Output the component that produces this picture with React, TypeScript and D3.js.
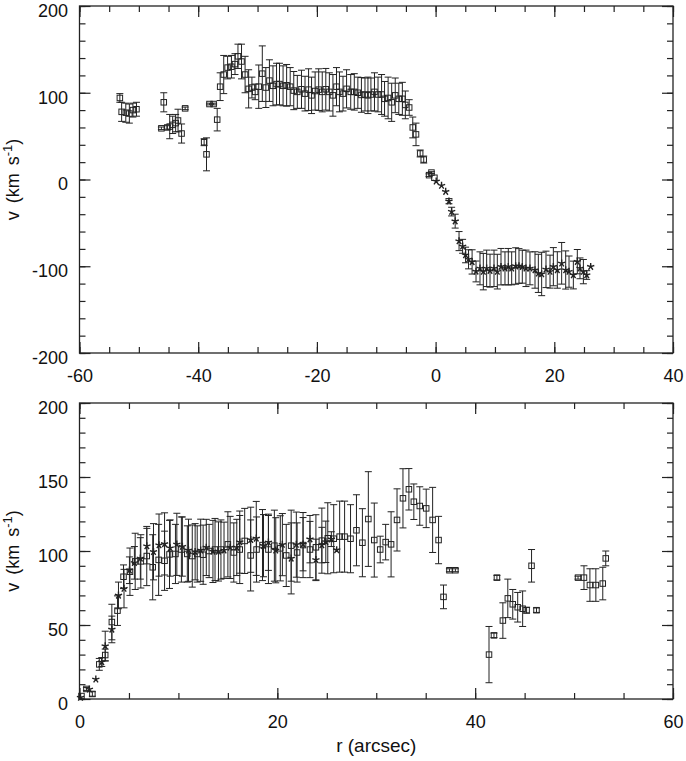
import React, { useEffect, useRef } from "react";
import * as d3 from "d3";

// ---------- data (r in arcsec, v in km/s, e = error half-length) ----------
// top panel: approaching side (open squares)
const topSquares: [number, number, number][] = [
  [-53.2, 94, 5], [-52.9, 78, 11], [-52.2, 77, 11], [-51.6, 76, 11], [-51.0, 80, 8], [-50.4, 81, 8],
  [-46.2, 59, 1.5], [-45.8, 89, 11], [-45.2, 60, 2], [-44.8, 61, 14], [-44.3, 63, 10], [-43.8, 65, 10],
  [-43.4, 68, 13], [-42.8, 53, 11], [-42.2, 82, 1.5],
  [-39.0, 43, 4], [-38.6, 29, 19], [-38.1, 87, 1], [-37.4, 87, 1], [-36.8, 69, 13],
  [-36.3, 107, 16], [-35.7, 121, 22], [-35.05, 129, 13], [-34.4, 130, 13], [-33.8, 133, 12], [-33.3, 142, 14],
  [-32.7, 136, 20], [-32.1, 121, 21], [-31.5, 104.5, 22], [-30.95, 106, 12], [-30.4, 101, 9], [-29.8, 107, 25],
  [-29.2, 122, 32], [-28.6, 106, 23], [-28.0, 114, 24], [-27.4, 108, 23], [-26.8, 110, 24], [-26.3, 110, 24],
  [-25.7, 108, 23], [-25.1, 108.6, 24], [-24.5, 107, 22], [-23.9, 102.5, 22], [-23.3, 101, 19], [-22.6, 104, 22],
  [-22.0, 99, 20], [-21.4, 103.6, 24], [-20.9, 97, 21], [-20.3, 102, 22], [-19.7, 103.6, 24], [-19.1, 101, 23],
  [-18.5, 104, 24], [-17.9, 101, 22], [-17.3, 97, 24], [-16.7, 107, 22], [-16.2, 101, 23], [-15.6, 99, 20],
  [-15.0, 104.5, 22], [-14.3, 101, 20], [-13.7, 101, 21], [-13.1, 100, 18], [-12.5, 97.5, 20], [-11.9, 98, 19],
  [-11.4, 97, 21], [-10.9, 98, 19], [-10.3, 101, 22], [-9.7, 98, 20], [-9.1, 98, 23], [-8.6, 93, 20],
  [-8.0, 94, 24], [-7.4, 89, 22], [-6.8, 97, 20], [-6.2, 93, 18], [-5.6, 93, 19], [-5.1, 86, 16],
  [-4.45, 83, 9], [-3.85, 60, 12], [-3.3, 52, 13], [-2.6, 30, 4], [-2.0, 23, 4], [-1.1, 5, 1.5],
  [-0.7, 8, 1], [-0.2, 2, 0],
];

// top panel: receding side (asterisks)
const topStars: [number, number, number][] = [
  [0.1, -2, 0], [1.0, -7, 0], [1.7, -14, 0], [2.25, -25, 3], [2.7, -37, 5], [3.3, -48, 8],
  [3.95, -71, 11], [4.55, -77, 8], [5.05, -87, 9], [5.55, -92, 11], [6.15, -95, 14],
  [6.81, -106, 12], [7.48, -102.4, 19], [8.04, -106.2, 21], [8.6, -102.4, 21], [9.17, -105.1, 19],
  [9.84, -102.4, 21], [10.4, -106.2, 20], [11.02, -100.5, 21], [11.69, -102.4, 19], [12.25, -100.5, 21],
  [12.82, -102.4, 19], [13.49, -99.7, 21], [14.05, -99.7, 20], [14.61, -100.5, 19], [15.23, -102.4, 21],
  [15.9, -102.4, 19], [16.75, -104.3, 21], [17.31, -108.2, 22], [17.87, -108.9, 25], [18.6, -103.6, 21],
  [19.28, -106.2, 19], [19.84, -100.5, 22], [20.51, -104.3, 21], [21.24, -96.6, 24], [21.92, -104.3, 22],
  [22.48, -106.2, 18], [23.21, -110.1, 16], [23.88, -94.7, 14], [24.33, -102.4, 12], [24.9, -106.2, 14],
  [25.46, -110.1, 5], [26.13, -100.5, 0],
];

// bottom panel: folded curve, approaching side (open squares)
const bottomSquares: [number, number, number][] = [
  [53.2, 95, 5], [52.9, 78, 11], [52.2, 77, 11], [51.6, 77, 11], [51.0, 82, 8], [50.4, 82, 1],
  [46.2, 60, 1.5], [45.7, 90, 11], [45.2, 60, 2], [44.8, 61, 12], [44.3, 62, 10], [43.8, 64, 10],
  [43.3, 68, 13], [42.8, 53, 12], [42.2, 82, 1.5],
  [41.9, 43, 1.5], [41.4, 30, 19], [38.0, 87, 1], [37.4, 87, 1], [36.8, 69, 8],
  [36.3, 107.4, 16], [35.7, 121, 22], [35.05, 128.8, 13], [34.4, 130.4, 13], [33.8, 133.3, 12], [33.3, 141.7, 14],
  [32.7, 135.6, 20], [32.1, 121, 21], [31.5, 104.5, 22], [30.95, 106, 12], [30.4, 101, 9], [29.8, 107.4, 25],
  [29.2, 121.6, 32], [28.6, 105.6, 23], [28.0, 114, 24], [27.4, 108.3, 23], [26.8, 109.7, 24], [26.3, 109.7, 24],
  [25.7, 108.3, 23], [25.1, 108.6, 24], [24.5, 107, 22], [23.9, 102.5, 22], [23.3, 101, 19], [22.6, 104, 22],
  [22.0, 99, 20], [21.4, 103.6, 24], [20.9, 97, 21], [20.3, 101.8, 22], [19.7, 103.6, 24], [19.1, 101, 23],
  [18.5, 104, 24], [17.9, 101, 22], [17.3, 97, 24], [16.7, 106.8, 22], [16.2, 101, 23], [15.6, 99, 20],
  [15.0, 104.5, 22], [14.3, 101, 20], [13.7, 101, 21], [13.1, 100, 18], [12.5, 97.5, 20], [11.9, 98, 19],
  [11.4, 96.6, 21], [10.9, 98, 19], [10.3, 101, 22], [9.7, 98, 20], [9.1, 97.7, 23], [8.6, 93.4, 20],
  [8.0, 94, 24], [7.4, 89, 22], [6.8, 96.6, 20], [6.2, 93, 18], [5.63, 93, 19], [5.1, 86, 16],
  [4.45, 82.6, 8], [3.84, 59.7, 10], [3.27, 52, 12], [2.6, 29.7, 4], [2.0, 23.4, 4], [1.3, 3.4, 1.5],
  [0.7, 6.8, 1], [0.2, 2, 0],
];

// bottom panel: folded curve, receding side (asterisks)
const bottomStars: [number, number, number][] = [
  [0.1, 1, 0], [1.0, 6.5, 0], [1.65, 13.3, 0], [2.25, 25, 3], [2.6, 35.8, 10], [3.27, 47, 9],
  [3.94, 70, 9], [4.5, 74.6, 13], [5.05, 87, 9], [5.55, 92, 11], [6.15, 95, 14],
  [6.81, 103.3, 12], [7.48, 99.5, 19], [8.04, 104, 21], [8.6, 104.8, 21], [9.17, 102, 19],
  [9.84, 104.5, 21], [10.4, 103, 20], [11.02, 100.5, 21], [11.69, 99.5, 19], [12.25, 100.5, 21],
  [12.82, 102.4, 19], [13.49, 99.7, 21], [14.05, 99.7, 20], [14.61, 100.5, 19], [15.23, 102.4, 21],
  [15.9, 102.4, 19], [16.2, 106, 21], [17.31, 107.6, 22], [17.87, 108.5, 25], [18.6, 103.6, 21],
  [19.1, 105.9, 19], [19.84, 100.5, 22], [20.51, 104.3, 21], [21.4, 95, 24], [21.92, 104.3, 22],
  [22.6, 104.6, 18], [23.3, 108, 16], [23.9, 94, 14], [24.5, 104, 12], [24.9, 106.2, 14],
  [25.46, 108, 5], [26.0, 100.7, 0],
];

// axis ticks
const topXMajor = [-60, -40, -20, 0, 20, 40];
const topXMinor = d3.range(-60, 41, 5);
const topYMajor = [-200, -100, 0, 100, 200];
const topYMinor = d3.range(-200, 201, 20);
const botXMajor = [0, 20, 40, 60];
const botXMinor = d3.range(0, 61, 5);
const botYMajor = [0, 50, 100, 150, 200];
const botYMinor = d3.range(0, 201, 10);

// ---------- layout ----------
const W = 686;
const H = 761;
const LEFT = 79.5;
const RIGHT = 673;
const P1 = { top: 6, bottom: 353 };
const P2 = { top: 403, bottom: 699 };
const INK = "#222";
const FONT = "'Liberation Sans', Arial, Helvetica, sans-serif";

const x1 = d3.scaleLinear().domain([-60, 40]).range([LEFT, RIGHT]);
const y1 = d3.scaleLinear().domain([-200, 200]).range([P1.bottom, P1.top]);
const x2 = d3.scaleLinear().domain([0, 60]).range([LEFT, RIGHT]);
const y2 = d3.scaleLinear().domain([0, 200]).range([P2.bottom, P2.top]);

type Scale = d3.ScaleLinear<number, number>;

function drawAxes(
  g: d3.Selection<SVGGElement, unknown, null, undefined>,
  x: Scale, y: Scale, top: number, bottom: number,
  xMaj: number[], xMin: number[], yMaj: number[], yMin: number[]
) {
  const fmt = (d: d3.NumberValue) => String(d);
  const none = () => "";
  const MAJ = 11, MIN = 6;
  const add = (tr: string, axis: d3.Axis<d3.NumberValue>) =>
    g.append("g").attr("transform", tr).call(axis as any);

  add(`translate(0,${bottom})`, d3.axisBottom(x).tickValues(xMin).tickSizeInner(-MIN).tickSizeOuter(0).tickFormat(none));
  add(`translate(0,${bottom})`, d3.axisBottom(x).tickValues(xMaj).tickSizeInner(-MAJ).tickSizeOuter(0).tickPadding(16.5).tickFormat(fmt));
  add(`translate(0,${top})`, d3.axisTop(x).tickValues(xMin).tickSizeInner(-MIN).tickSizeOuter(0).tickFormat(none));
  add(`translate(0,${top})`, d3.axisTop(x).tickValues(xMaj).tickSizeInner(-MAJ).tickSizeOuter(0).tickFormat(none));
  add(`translate(${LEFT},0)`, d3.axisLeft(y).tickValues(yMin).tickSizeInner(-MIN).tickSizeOuter(0).tickFormat(none));
  const ly = add(`translate(${LEFT},0)`, d3.axisLeft(y).tickValues(yMaj).tickSizeInner(-MAJ).tickSizeOuter(0).tickPadding(11.5).tickFormat(fmt));
  add(`translate(${RIGHT},0)`, d3.axisRight(y).tickValues(yMin).tickSizeInner(-MIN).tickSizeOuter(0).tickFormat(none));
  add(`translate(${RIGHT},0)`, d3.axisRight(y).tickValues(yMaj).tickSizeInner(-MAJ).tickSizeOuter(0).tickFormat(none));

  ly.selectAll("text").attr("dy", "0.58em");
  g.selectAll(".domain").remove();
  g.selectAll(".tick line").attr("stroke", INK).attr("stroke-width", 1.2);
  g.selectAll("text")
    .attr("fill", "#111")
    .attr("font-family", FONT)
    .attr("font-size", 18);
  g.selectAll("g").attr("font-family", null).attr("font-size", null);
}

function Marks({ squares, stars, x, y }: { squares: [number, number, number][]; stars: [number, number, number][]; x: Scale; y: Scale }) {
  const cap = 3.5;
  const s = 5.5;
  const bar = (d: [number, number, number], i: number, k: string) => {
    const [r, v, e] = d;
    if (e <= 0) return null;
    const cx = x(r);
    const ya = y(v - e);
    const yb = y(v + e);
    return (
      <g key={k + i}>
        <line x1={cx} x2={cx} y1={ya} y2={yb} />
        <line x1={cx - cap} x2={cx + cap} y1={ya} y2={ya} />
        <line x1={cx - cap} x2={cx + cap} y1={yb} y2={yb} />
      </g>
    );
  };
  const star = (d: [number, number, number], i: number) => {
    const cx = x(d[0]);
    const cy = y(d[1]);
    const R = 3.8;
    const arms = d3.range(5).map((k) => {
      const a = (-90 + k * 72) * Math.PI / 180;
      return `M${cx},${cy}L${cx + R * Math.cos(a)},${cy + R * Math.sin(a)}`;
    });
    return <path key={"st" + i} d={arms.join("")} strokeWidth={1.4} />;
  };
  return (
    <g stroke={INK} strokeWidth={1} fill="none">
      {squares.map((d, i) => bar(d, i, "sb"))}
      {stars.map((d, i) => bar(d, i, "tb"))}
      {squares.map((d, i) => (
        <rect key={"sq" + i} x={x(d[0]) - s / 2} y={y(d[1]) - s / 2} width={s} height={s} />
      ))}
      {stars.map(star)}
    </g>
  );
}

export default function App() {
  const axRef = useRef<SVGGElement>(null);
  useEffect(() => {
    if (!axRef.current) return;
    const root = d3.select(axRef.current);
    root.selectAll("*").remove();
    drawAxes(root.append("g"), x1, y1, P1.top, P1.bottom, topXMajor, topXMinor, topYMajor, topYMinor);
    drawAxes(root.append("g"), x2, y2, P2.top, P2.bottom, botXMajor, botXMinor, botYMajor, botYMinor);
  }, []);

  const yTitle = (cy: number) => (
    <text transform={`translate(19,${cy}) rotate(-90)`} textAnchor="middle" fontFamily={FONT} fontSize={18} wordSpacing={3} fill="#111">
      v (km s<tspan dy={-7} fontSize={13}>-1</tspan><tspan dy={7}>)</tspan>
    </text>
  );

  return (
    <svg width={W} height={H} viewBox={`0 0 ${W} ${H}`} style={{ position: "absolute", left: 0, top: 0, background: "#fff" }}>
      <rect x={0} y={0} width={W} height={H} fill="#fff" />
      <rect x={LEFT} y={P1.top} width={RIGHT - LEFT} height={P1.bottom - P1.top} fill="none" stroke={INK} strokeWidth={1.3} />
      <rect x={LEFT} y={P2.top} width={RIGHT - LEFT} height={P2.bottom - P2.top} fill="none" stroke={INK} strokeWidth={1.3} />
      <g ref={axRef} />
      <Marks squares={topSquares} stars={topStars} x={x1} y={y1} />
      <Marks squares={bottomSquares} stars={bottomStars} x={x2} y={y2} />
      {yTitle((P1.top + P1.bottom) / 2)}
      {yTitle((P2.top + P2.bottom) / 2)}
      <text x={(LEFT + RIGHT) / 2} y={752} textAnchor="middle" fontFamily={FONT} fontSize={19} fill="#111">
        r (arcsec)
      </text>
    </svg>
  );
}
